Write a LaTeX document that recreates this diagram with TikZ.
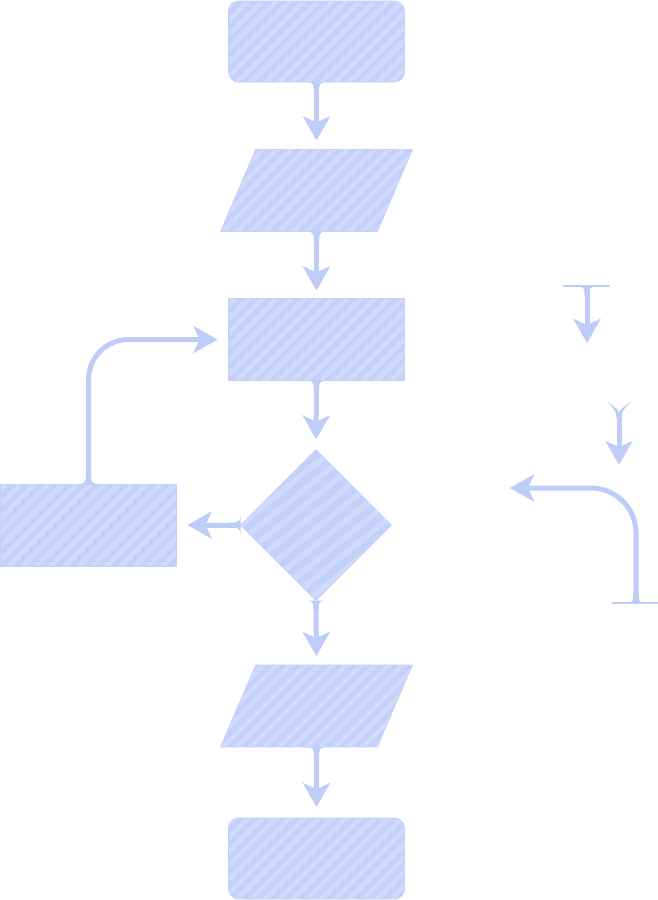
\documentclass[tikz,border=0pt]{standalone}
\usetikzlibrary{arrows.meta,shapes.geometric}
\definecolor{boxfill}{RGB}{195,208,250}
\definecolor{stripecol}{RGB}{208,219,252}
\definecolor{arrowc}{RGB}{190,204,248}
\tikzset{
  shapebox/.style={fill=boxfill, draw=boxfill, line width=0.6pt, inner sep=0pt, outer sep=0pt},
  finestripes/.style={path picture={\foreach \i in {-308,-294,...,308}{
      \fill[stripecol] ([xshift=\i pt]path picture bounding box.center) ++(-160pt,-160pt)
        -- ++(320pt,320pt) -- ++(6.5pt,0pt) -- ++(-320pt,-320pt) -- cycle;}}},
  widestripes/.style={path picture={\foreach \i in {-320,-300,...,320}{
      \fill[stripecol] ([xshift=\i pt]path picture bounding box.center) ++(-160pt,-130pt)
        -- ++(320pt,260pt) -- ++(9pt,0pt) -- ++(-320pt,-260pt) -- cycle;}}},
  termbox/.style={shapebox, finestripes, rectangle, rounded corners=10pt, minimum width=176pt, minimum height=81pt},
  procbox/.style={shapebox, finestripes, rectangle, minimum width=176pt, minimum height=82pt},
  iobox/.style={shapebox, finestripes, trapezium, inner sep=2pt, trapezium left angle=73.9, trapezium right angle=106.1,
    trapezium stretches=true, minimum width=192pt, minimum height=82pt},
  decbox/.style={shapebox, widestripes, diamond, aspect=1, minimum width=151pt, minimum height=151pt},
  flowarrow/.style={draw=arrowc, line width=5pt, -{Stealth[length=24pt,width=27pt,inset=6pt]}},
  barline/.style={draw=arrowc, line width=2pt},
  flare/.pic={\fill[arrowc] (-10pt,0pt) .. controls (-2.5pt,0pt) and (-2.5pt,-3pt) .. (-2.5pt,-11pt)
      -- (2.5pt,-11pt) .. controls (2.5pt,-3pt) and (2.5pt,0pt) .. (10pt,0pt) -- cycle;}
}
\begin{document}
\begin{tikzpicture}[x=1pt,y=-1pt]
\useasboundingbox (0,0) rectangle (658,900);
% shapes
\node[termbox] (start) at (316.5,41.5) {};
\node[iobox] (in1) at (316.5,190.5) {};
\node[procbox] (proc) at (316.5,339.5) {};
\node[decbox] (dec) at (316,525) {};
\node[procbox] (side) at (88.5,525) {};
\node[iobox] (in2) at (316.5,706) {};
\node[termbox] (stop) at (316.5,858.5) {};
% main connectors
\pic at (start.south) {flare};
\draw[flowarrow, shorten >=9pt] (start.south) -- (in1.north);
\pic at (in1.south) {flare};
\draw[flowarrow, shorten >=8pt] (in1.south) -- (proc.north);
\pic at (proc.south) {flare};
\draw[flowarrow, shorten >=10pt] (proc.south) -- (dec.north);
\pic at (dec.south) {flare};
\draw[flowarrow, shorten >=9pt] (dec.south) -- (in2.north);
\pic at (in2.south) {flare};
\draw[flowarrow, shorten >=11pt] (in2.south) -- (stop.north);
\pic[rotate=-90] at (dec.west) {flare};
\draw[flowarrow, shorten >=11pt] (dec.west) -- (side.east);
\pic[rotate=180] at (side.north) {flare};
\draw[flowarrow, rounded corners=40pt, shorten >=11pt] (side.north) |- (proc.west);
% free arrows on the right
\coordinate (r1s) at (587,286);
\coordinate (r1e) at (587,343);
\coordinate (r1a) at (563,286);
\coordinate (r1b) at (610,286);
\draw[barline] (r1a) -- (r1b);
\pic at (r1s) {flare};
\draw[flowarrow] (r1s) -- (r1e);
\coordinate (r2s) at (619,416);
\coordinate (r2e) at (619,465);
\coordinate (r2a) at (608,402);
\coordinate (r2b) at (631,402);
\fill[arrowc] (r2a) .. controls (613,408) and (616.5,411) .. (616.5,418) -- (621.5,418)
  .. controls (621.5,411) and (625,408) .. (r2b) .. controls (624,406) and (620,410) .. (619,412)
  .. controls (618,410) and (614,406) .. cycle;
\draw[flowarrow] (r2s) -- (r2e);
\coordinate (r3s) at (636,603);
\coordinate (r3e) at (510,488);
\coordinate (r3a) at (612,603);
\coordinate (r3b) at (658,603);
\draw[barline] (r3a) -- (r3b);
\pic[rotate=180] at (r3s) {flare};
\draw[flowarrow, rounded corners=45pt] (r3s) |- (r3e);
\end{tikzpicture}
\end{document}
